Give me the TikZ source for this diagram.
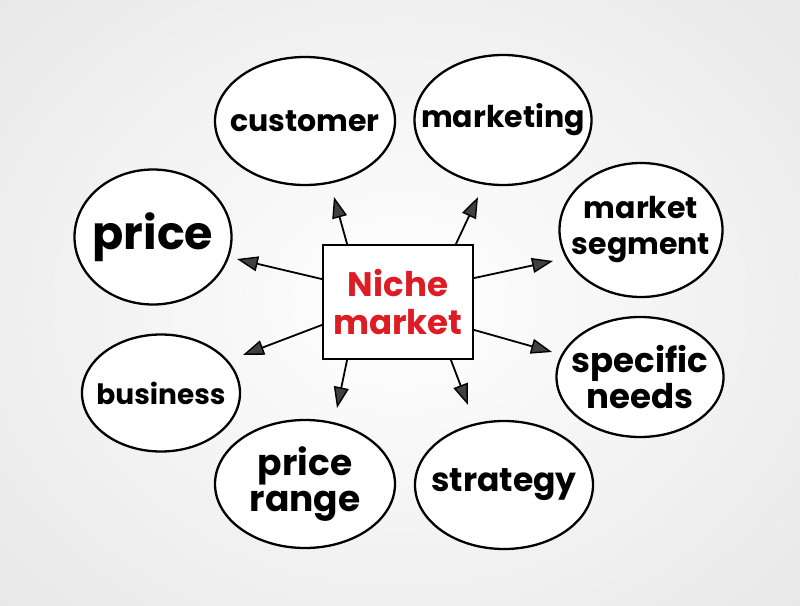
\documentclass[tikz,border=0pt]{standalone}
\usepackage{fontspec}
\setmainfont{Poppins}
\usetikzlibrary{arrows.meta,shapes.geometric,calc}
\definecolor{nicheRed}{RGB}{222,28,36}
\begin{document}
\begin{tikzpicture}[x=1pt,y=-1pt,
  bubble/.style={draw=black,line width=2.3pt,ellipse,fill=white,inner sep=0pt},
  arr/.style={line width=1.8pt,-{Triangle[length=21pt,width=15pt,fill=black!75,line width=1.4pt]}},
  lbl/.style={align=center,text=black,inner sep=0pt,font=\bfseries\fontsize{#1}{36}\selectfont}]
\useasboundingbox (0,0) rectangle (800,605);
\shade[inner color=white,outer color=black!9] (-150,-150) rectangle (950,755);
% central box
\node[draw=black,line width=1.8pt,fill=white,minimum width=150pt,minimum height=114pt,inner sep=0pt,
  align=center,text=nicheRed,font=\bfseries\fontsize{34}{38}\selectfont] (box) at (398,302) {Niche\\market};
% bubbles
\node[bubble,minimum width=180pt,minimum height=128pt] (customer) at (305,121) {};
\node[bubble,minimum width=177pt,minimum height=130pt] (marketing) at (503,120) {};
\node[bubble,minimum width=157pt,minimum height=135pt] (price) at (153,237) {};
\node[bubble,minimum width=163pt,minimum height=134pt] (segment) at (641,230) {};
\node[bubble,minimum width=158pt,minimum height=117pt] (business) at (161,393) {};
\node[bubble,minimum width=167pt,minimum height=120pt] (needs) at (640,377) {};
\node[bubble,minimum width=180pt,minimum height=128pt] (range) at (305,484) {};
\node[bubble,minimum width=178pt,minimum height=128pt] (strategy) at (504,485) {};
% labels
\node[lbl=30] (customerT) at (customer) {customer};
\node[lbl=30] (marketingT) at (marketing) {marketing};
\node[lbl=46] (priceT) at (price) {price};
\node[lbl=30] (segmentT) at (segment) {market\\segment};
\node[lbl=28] (businessT) at (business) {business};
\node[lbl=34] (needsT) at (needs) {specific\\needs};
\node[lbl=36] (rangeT) at (range) {price\\range};
\node[lbl=33] (strategyT) at (strategy) {strategy};
% arrow tips
\coordinate (tc) at (334,197);
\coordinate (tm) at (478,197);
\coordinate (tp) at (237,259);
\coordinate (ts) at (553,261);
\coordinate (tb) at (243,355);
\coordinate (tn) at (552,352);
\coordinate (tr) at (337,408);
\coordinate (tg) at (468,405);
\draw[arr] ([xshift=25pt]box.north west) -- (tc);
\draw[arr] ([xshift=-18pt]box.north east) -- (tm);
\draw[arr] ([yshift=-35pt]box.north west) -- (tp);
\draw[arr] ([yshift=-34pt]box.north east) -- (ts);
\draw[arr] ([yshift=35pt]box.south west) -- (tb);
\draw[arr] ([yshift=30pt]box.south east) -- (tn);
\draw[arr] ([xshift=25pt]box.south west) -- (tr);
\draw[arr] ([xshift=-23pt]box.south east) -- (tg);
\end{tikzpicture}
\end{document}
